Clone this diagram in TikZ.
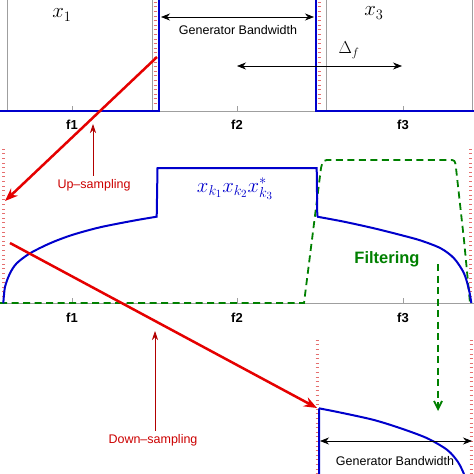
\documentclass[tikz,border=0pt]{standalone}
\usepackage{fontspec}
\setsansfont{Liberation Sans}
\usetikzlibrary{arrows.meta}
\newcommand{\redticks}[4]{% x1, x2, ystart, count
  \foreach \k in {0,...,#4} \draw[tk] (#1,{#3+\k*4.6}) -- (#2,{#3+\k*4.6});}
\begin{document}
\begin{tikzpicture}[x=1pt,y=-1pt,
  gl/.style={gray!75, line width=0.8pt},
  bl/.style={blue!80!black, line width=2pt},
  rd/.style={red!90!black, line width=2.5pt, -{Stealth[length=13pt,width=10pt]}},
  ptr/.style={red!70!black, line width=0.7pt, -{Stealth[length=9pt,width=6pt]}},
  dimar/.style={black, line width=0.7pt, {Stealth[length=9pt,width=7pt]}-{Stealth[length=9pt,width=7pt]}},
  gd/.style={green!50!black, line width=1.8pt, dash pattern=on 7pt off 4.5pt},
  tk/.style={red!45!pink!80!gray, line width=0.6pt},
  lab/.style={font=\fontsize{12.5}{14}\selectfont\sffamily, inner sep=0pt},
  rlab/.style={lab, text=red!80!black},
  tl/.style={font=\fontsize{13}{15}\selectfont\sffamily\bfseries, inner sep=0pt},
  mth/.style={inner sep=0pt}]
\useasboundingbox[fill=white] (0,0) rectangle (474,474);

% ---------------- top panel ----------------
\draw[gl] (0,111) -- (474,111);
\foreach \xx in {7,152,326,472} \draw[gl] (\xx,0) -- (\xx,111);
\foreach \xx in {72,237,403} \draw[gl] (\xx,111) -- (\xx,106);
\redticks{153.5}{156.5}{2}{22}
\redticks{317.5}{320.5}{2}{22}
\draw[bl] (0,111) -- (159,111) -- (159,0);
\draw[bl] (316,0) -- (316,111) -- (474,111);
\node[tl] (f1a) at (72,125) {f1};
\node[tl] (f2a) at (237,125) {f2};
\node[tl] (f3a) at (403,125) {f3};
\node[mth] (x1) at (62,15) {\fontsize{21}{23}\selectfont$x_1$};
\node[mth] (x3) at (374,13) {\fontsize{21}{23}\selectfont$x_3$};
\coordinate (gb1) at (161,17);
\coordinate (gb2) at (314,17);
\draw[dimar] (gb1) -- (gb2);
\node[lab] (gbl) at (238,30) {Generator Bandwidth};
\coordinate (df1) at (237,66);
\coordinate (df2) at (402,66);
\draw[dimar] (df1) -- (df2);
\node[mth] (dfl) at (349,50) {\fontsize{17}{19}\selectfont$\Delta_f$};

% ---------------- middle panel ----------------
\draw[gl] (0,303) -- (474,303);
\foreach \xx in {72,237,403} \draw[gl] (\xx,303) -- (\xx,298);
\redticks{2}{5}{149}{32}
\redticks{469}{472}{149}{32}
\draw[gd] (0,303) -- (304,303) -- (321,168) .. controls (323,160) .. (331,160)
  -- (449,160) .. controls (455,160) .. (456,168) -- (464,240) -- (470,303);
\draw[bl] plot[smooth] coordinates {(3.3,303.3) (5,287) (10,273.3) (16.7,263.3) (30,253.3)
  (50,243.3) (72,235) (100,227.3) (133.3,220.7) (156.7,216.7)}
  -- (157.5,168) -- (316.7,168) -- (317.3,216.7)
  plot[smooth] coordinates {(317.3,216.7) (344,221.7) (374,228.3) (400.7,235) (420.7,240.5)
  (440.7,248.3) (454,258.3) (464,273.3) (469,290) (471.3,303)};
\node[tl] (f1b) at (72,318) {f1};
\node[tl] (f2b) at (237,318) {f2};
\node[tl] (f3b) at (403,318) {f3};
\node[mth, text=blue!80!black] (prod) at (235,189) {\fontsize{22}{24}\selectfont$x_{k_1}x_{k_2}x^*_{k_3}$};
\node[font=\fontsize{16.5}{18}\selectfont\sffamily\bfseries, text=green!50!black, inner sep=0pt] (filt) at (387,259) {Filtering};

% filtering arrow
\coordinate (fa1) at (438,264);
\coordinate (fa2) at (438,411);
\draw[gd, -{Straight Barb[length=8pt,width=8pt]}] (fa1) -- (fa2);

% ---------------- bottom panel ----------------
\redticks{315.5}{318.5}{340}{29}
\redticks{469.5}{472.5}{340}{29}
\draw[bl] (319,474) -- (319,408.3) plot[smooth] coordinates {(319,408.3) (344,413.3) (374,420)
  (400.7,428.3) (427.3,438.3) (447.3,450) (458,462) (464,474)};
\coordinate (gc1) at (320,441);
\coordinate (gc2) at (472,441);
\draw[dimar] (gc1) -- (gc2);
\node[lab] (gcl) at (395,461) {Generator Bandwidth};

% ---------------- sampling arrows ----------------
\coordinate (us1) at (157,57);
\coordinate (us2) at (5,201);
\draw[rd] (us1) -- (us2);
\node[rlab] (usl) at (94,185) {Up--sampling};
\coordinate (usp) at (93,124);
\draw[ptr] (usl.north -| usp) ++(0,-3) -- (usp);

\coordinate (ds1) at (10,243);
\coordinate (ds2) at (317,408);
\draw[rd] (ds1) -- (ds2);
\node[rlab] (dsl) at (153,440) {Down--sampling};
\coordinate (dsp) at (155,331);
\draw[ptr] (dsl.north -| dsp) ++(0,-3) -- (dsp);
\end{tikzpicture}
\end{document}
